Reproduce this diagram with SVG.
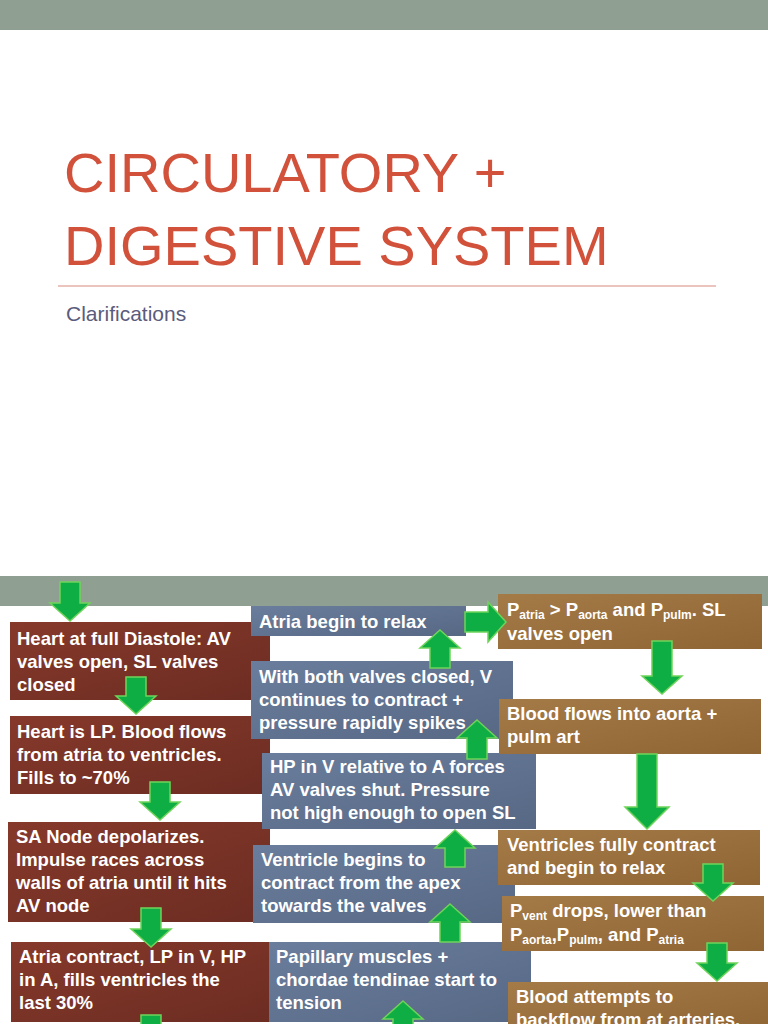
<svg xmlns="http://www.w3.org/2000/svg" width="768" height="1024" viewBox="0 0 768 1024">
<style>
.t{font-family:"Liberation Sans",Arial,sans-serif;font-weight:bold;font-size:18.5px;fill:#fff}
.s{font-size:12px}
.title{font-family:"Liberation Sans",Arial,sans-serif;font-size:56px;fill:#d2513a}
.ar{fill:#0eae45;stroke:#6fd35a;stroke-width:1.5}
</style>
<defs>
<linearGradient id="red" x1="0" y1="0" x2="1" y2="1"><stop offset="0" stop-color="#86392b"/><stop offset="1" stop-color="#6c2c22"/></linearGradient>
<linearGradient id="blue" x1="0" y1="0" x2="1" y2="1"><stop offset="0" stop-color="#6a7d9c"/><stop offset="1" stop-color="#566884"/></linearGradient>
<linearGradient id="brown" x1="0" y1="0" x2="1" y2="1"><stop offset="0" stop-color="#a47a47"/><stop offset="1" stop-color="#8f6534"/></linearGradient>
</defs>
<rect x="0" y="0" width="768" height="30" fill="#8fa092"/>
<text class="title" x="64" y="192">CIRCULATORY +</text>
<text class="title" x="64" y="265">DIGESTIVE SYSTEM</text>
<line x1="58" y1="286" x2="716" y2="286" stroke="#d88c7c" stroke-width="1.2"/>
<text x="66" y="321" font-family="Liberation Sans,Arial,sans-serif" font-size="21" fill="#5b5b7b">Clarifications</text>
<rect x="0" y="576" width="768" height="30" fill="#8fa092"/>

<g id="n1"><rect x="10" y="622" width="260" height="78" fill="url(#red)"/><text class="t" x="17" y="645">Heart at full Diastole: AV</text><text class="t" x="17" y="668">valves open, SL valves</text><text class="t" x="17" y="691">closed</text></g>
<g id="n2"><rect x="10" y="716" width="260" height="78" fill="url(#red)"/><text class="t" x="17" y="738">Heart is LP. Blood flows</text><text class="t" x="17" y="761">from atria to ventricles.</text><text class="t" x="17" y="784">Fills to ~70%</text></g>
<g id="n3"><rect x="8" y="822" width="262" height="100" fill="url(#red)"/><text class="t" x="16" y="843">SA Node depolarizes.</text><text class="t" x="16" y="866">Impulse races across</text><text class="t" x="16" y="889">walls of atria until it hits</text><text class="t" x="16" y="912">AV node</text></g>
<g id="n4"><rect x="11" y="942" width="258" height="80" fill="url(#red)"/><text class="t" x="19" y="963">Atria contract, LP in V, HP</text><text class="t" x="19" y="986">in A, fills ventricles the</text><text class="t" x="19" y="1009">last 30%</text></g>

<g id="b1"><rect x="251" y="606" width="215" height="30" fill="url(#blue)"/><text class="t" x="259" y="628">Atria begin to relax</text></g>
<g id="b2"><rect x="251" y="661" width="262" height="78" fill="url(#blue)"/><text class="t" x="259" y="683">With both valves closed, V</text><text class="t" x="259" y="706">continues to contract +</text><text class="t" x="259" y="729">pressure rapidly spikes</text></g>
<g id="b3"><rect x="262" y="753" width="274" height="76" fill="url(#blue)"/><text class="t" x="270" y="773">HP in V relative to A forces</text><text class="t" x="270" y="796">AV valves shut. Pressure</text><text class="t" x="270" y="819">not high enough to open SL</text></g>
<g id="b4"><rect x="253" y="845" width="262" height="78" fill="url(#blue)"/><text class="t" x="261" y="866">Ventricle begins to</text><text class="t" x="261" y="889">contract from the apex</text><text class="t" x="261" y="912">towards the valves</text></g>
<g id="b5"><rect x="269" y="942" width="262" height="80" fill="url(#blue)"/><text class="t" x="276" y="963">Papillary muscles +</text><text class="t" x="276" y="986">chordae tendinae start to</text><text class="t" x="276" y="1009">tension</text></g>

<g id="c1"><rect x="498" y="594" width="264" height="55" fill="url(#brown)"/><text class="t" x="507" y="616">P<tspan class="s" dy="3">atria</tspan><tspan dy="-3"> &gt; P</tspan><tspan class="s" dy="3">aorta</tspan><tspan dy="-3"> and P</tspan><tspan class="s" dy="3">pulm</tspan><tspan dy="-3">. SL</tspan></text><text class="t" x="507" y="640">valves open</text></g>
<g id="c2"><rect x="499" y="699" width="262" height="55" fill="url(#brown)"/><text class="t" x="507" y="720">Blood flows into aorta +</text><text class="t" x="507" y="743">pulm art</text></g>
<g id="c3"><rect x="498" y="830" width="262" height="55" fill="url(#brown)"/><text class="t" x="507" y="851">Ventricles fully contract</text><text class="t" x="507" y="874">and begin to relax</text></g>
<g id="c4"><rect x="502" y="896" width="262" height="55" fill="url(#brown)"/><text class="t" x="510" y="917">P<tspan class="s" dy="3">vent</tspan><tspan dy="-3"> drops, lower than</tspan></text><text class="t" x="510" y="941">P<tspan class="s" dy="3">aorta</tspan><tspan dy="-3">,P</tspan><tspan class="s" dy="3">pulm</tspan><tspan dy="-3">, and P</tspan><tspan class="s" dy="3">atria</tspan></text></g>
<g id="c5"><rect x="508" y="982" width="262" height="50" fill="url(#brown)"/><text class="t" x="516" y="1003">Blood attempts to</text><text class="t" x="516" y="1026">backflow from at arteries.</text></g>

<g id="connectors" class="ar">
<path d="M60 582 H80 V603 H90 L70 621 L50 603 H60Z"/>
<path d="M126 677 H146 V696 H156 L136 714 L116 696 H126Z"/>
<path d="M150 782 H170 V802 H180 L160 820 L140 802 H150Z"/>
<path d="M141 908 H161 V929 H171 L151 947 L131 929 H141Z"/>
<path d="M141 1015 H161 V1030 H141Z"/>
<path d="M652 641 H672 V676 H682 L662 694 L642 676 H652Z"/>
<path d="M637 754 H657 V807 H669 L647 829 L625 807 H637Z"/>
<path d="M703 864 H723 V883 H733 L713 901 L693 883 H703Z"/>
<path d="M707 943 H727 V963 H737 L717 981 L697 963 H707Z"/>
<path d="M440 630 L460 648 H450 V668 H430 V648 H420Z"/>
<path d="M477 720 L497 738 H487 V759 H467 V738 H457Z"/>
<path d="M455 830 L475 848 H465 V867 H445 V848 H435Z"/>
<path d="M450 904 L470 922 H460 V942 H440 V922 H430Z"/>
<path d="M403 1001 L423 1019 H413 V1030 H393 V1019 H383Z"/>
<path d="M465 612 H488 V602 L506 622 L488 642 V632 H465Z"/>
</g>
</svg>
